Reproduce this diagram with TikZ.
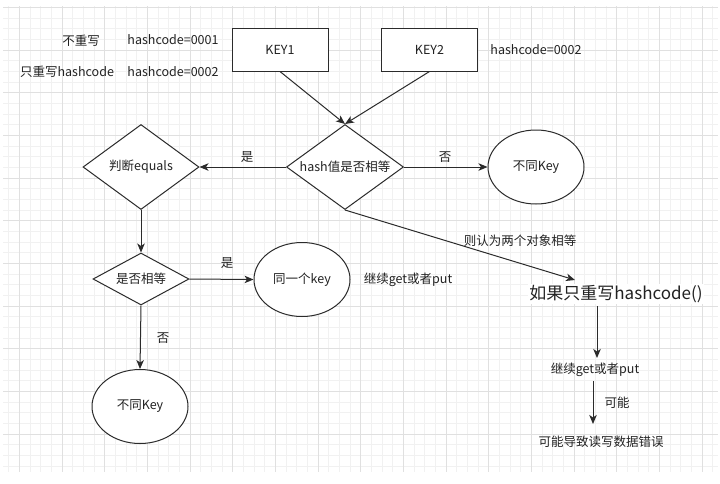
\documentclass[tikz,border=0pt]{standalone}
\usepackage{fontspec}
\setmainfont{Noto Sans CJK SC}
\usetikzlibrary{shapes.geometric,arrows.meta,calc}
\definecolor{ln}{HTML}{2B2B2B}
\definecolor{txt}{HTML}{222222}
\definecolor{minorg}{HTML}{F1F1F1}
\definecolor{majorg}{HTML}{E0E0E0}
\begin{document}
\begin{tikzpicture}[x=1pt,y=-1pt,
  arr/.style={draw=ln, line width=1pt, -{Stealth[length=9pt,width=7.5pt,inset=2.5pt]}},
  lbl/.style={inner sep=0pt, text=txt, font=\fontsize{12.5}{15}\selectfont},
  dia/.style={diamond, draw=ln, line width=1pt, inner sep=0pt, fill=white, text=txt, font=\fontsize{12.5}{15}\selectfont},
  ell/.style={ellipse, draw=ln, line width=1pt, inner sep=0pt, fill=white, text=txt, font=\fontsize{12.5}{15}\selectfont, minimum width=96pt, minimum height=74pt},
  keybox/.style={rectangle, draw=ln, line width=1pt, inner sep=0pt, fill=white, text=txt, font=\fontsize{12.5}{15}\selectfont, minimum width=96pt, minimum height=43pt}
]
\useasboundingbox (0,0) rectangle (720,483);
\fill[white] (0,0) rectangle (720,483);
% grid
\begin{scope}
\clip (3,6.5) rectangle (718,472);
\foreach \k in {0,...,66} { \draw[minorg, line width=0.8pt] ({8.63+10.667*\k},6) -- ({8.63+10.667*\k},472); }
\foreach \k in {0,...,43} { \draw[minorg, line width=0.8pt] (3,{7.33+10.667*\k}) -- (718,{7.33+10.667*\k}); }
\foreach \k in {0,...,16} { \draw[majorg, line width=0.9pt] ({19.3+42.667*\k},6) -- ({19.3+42.667*\k},472); }
\foreach \k in {0,...,10} { \draw[majorg, line width=0.9pt] (3,{7.33+42.667*\k}) -- (718,{7.33+42.667*\k}); }
\end{scope}

% top labels
\node[lbl] (t1) at (81,41) {不重写};
\node[lbl] (t2) at (173,40) {hashcode=0001};
\node[lbl] (t3) at (67,72) {只重写hashcode};
\node[lbl] (t4) at (173,72) {hashcode=0002};
\node[lbl] (t5) at (536,50) {hashcode=0002};

% boxes
\node[keybox] (k1) at (280,49.5) {KEY1};
\node[keybox] (k2) at (429.5,49.5) {KEY2};

% diamonds
\node[dia, shape aspect=1.38, minimum width=117pt, minimum height=85pt] (hd) at (345,167) {hash值是否相等};
\node[dia, shape aspect=1.38, minimum width=116pt, minimum height=85pt] (eq) at (141,167) {判断equals};
\node[dia, shape aspect=1.85, minimum width=96pt, minimum height=52pt] (sd) at (141,279) {是否相等};

% ellipses
\node[ell] (nk1) at (536,167) {不同Key};
\node[ell] (same) at (302,279.5) {同一个key};
\node[ell] (nk2) at (140,406.5) {不同Key};

% right column texts
\node[inner sep=1pt, fill=white, text=txt, font=\fontsize{17}{20}\selectfont] (big) at (616,294) {如果只重写hashcode()};
\node[lbl] (c2) at (595,370) {继续get或者put};
\node[lbl] (err) at (601,442) {可能导致读写数据错误};
\node[lbl] (c1) at (408,280) {继续get或者put};

% connectors
\draw[arr] (k1.south) -- (hd.north);
\draw[arr] (k2.south) -- (hd.north);
\draw[arr] (hd.west) -- (eq.east);
\node[lbl] (ls1) at (247,157) {是};
\draw[arr] (hd.east) -- (nk1.west);
\node[lbl] (ls2) at (445,157) {否};
\coordinate (bigin) at (575,280);
\draw[arr] (hd.south) -- (bigin);
\node[lbl] (ls3) at (520,241) {则认为两个对象相等};
\draw[arr] (eq.south) -- (sd.north);
\draw[arr] (sd.east) -- (same.west);
\node[lbl] (ls4) at (227,263) {是};
\draw[arr] (sd.south) -- (nk2.north);
\node[lbl] (ls5) at (163,338) {否};
\coordinate (bs) at (597,306);
\coordinate (be) at (597,358);
\draw[arr] (bs) -- (be);
\coordinate (cs) at (593,381);
\coordinate (ce) at (593,424);
\draw[arr] (cs) -- (ce);
\node[lbl] (ls6) at (617,403) {可能};
\end{tikzpicture}
\end{document}
